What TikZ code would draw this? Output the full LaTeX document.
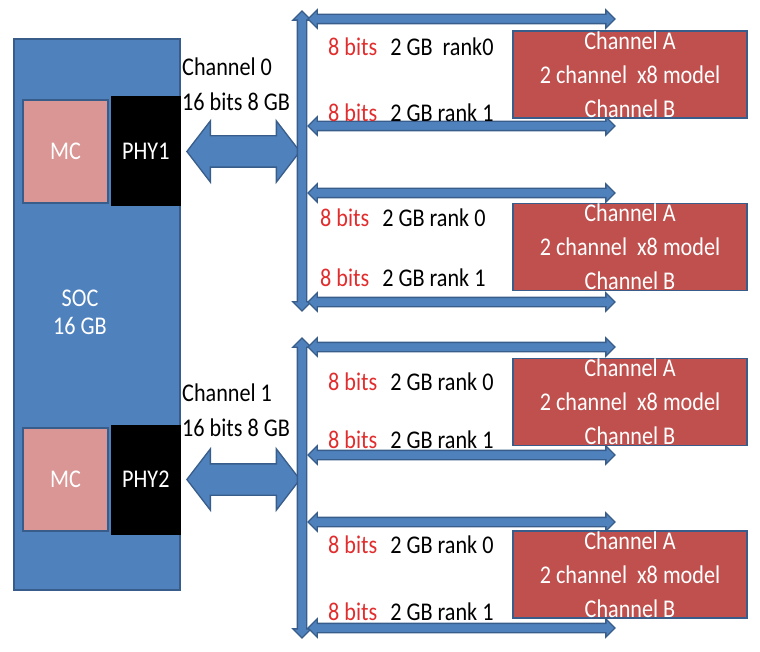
\documentclass[tikz,border=0pt]{standalone}
\usepackage{fontspec}
\setmainfont{Carlito}[FakeStretch=0.87]
\usepackage{tikz}
\usetikzlibrary{shapes.arrows,positioning}
\definecolor{ofblue}{RGB}{79,129,189}
\definecolor{ofnavy}{RGB}{56,93,138}
\definecolor{ofred}{RGB}{192,80,77}
\definecolor{ofpink}{RGB}{217,150,148}
\definecolor{bitred}{RGB}{225,45,45}

\begin{document}
\begin{tikzpicture}[
  x=1pt, y=-1pt,
  font=\fontsize{25.5}{34}\selectfont,
  soc/.style={draw=ofnavy, fill=ofblue, line width=1.3pt,
              minimum width=166pt, minimum height=551pt, inner sep=0pt},
  mc/.style={draw=ofnavy, fill=ofpink, line width=1.3pt,
             minimum width=85pt, minimum height=103pt, text=white},
  phy/.style={fill=black, minimum width=70pt, minimum height=110pt,
              text=white, inner sep=0pt},
  dimm/.style={draw=ofnavy, fill=ofred, line width=1.3pt, inner sep=0pt,
               minimum width=234pt, minimum height=87pt, align=center,
               text=white},
  rail/.style={double arrow, draw=ofnavy, fill=ofblue, line width=1.3pt,
               inner xsep=0pt, inner ysep=4pt,
               double arrow head extend=4.5pt, double arrow tip angle=90},
  link/.style={double arrow, draw=ofnavy, fill=ofblue, line width=1.3pt,
               inner xsep=0pt, inner ysep=15pt, minimum height=113pt,
               double arrow head extend=15pt, double arrow tip angle=105},
  lbl/.style={anchor=west, inner sep=0pt}
]
\useasboundingbox (0,0) rectangle (760,652);

% --- SoC (left) ---
\node[soc] (soc) at (97,314.5) {};
\node[text=white, align=center, font=\fontsize{25.5}{28}\selectfont]
  (soclbl) at (80,312) {SOC\\16 GB};

\node[mc] (mc1) at (65.5,151.5) {MC};
\node[phy, right=2pt of mc1] (phy1) {PHY1};
\node[mc] (mc2) at (65.5,479.5) {MC};
\node[phy, right=2pt of mc2] (phy2) {PHY2};

% --- channels ---
\node[link, right=5pt of phy1] (lk0) {};
\node[link, right=5pt of phy2] (lk1) {};
\node[lbl, align=left, font=\fontsize{25.5}{35}\selectfont]
  (ch0) at (182,84.5) {Channel 0\\16 bits 8 GB};
\node[lbl, align=left, font=\fontsize{25.5}{35}\selectfont]
  (ch1) at (182,410.5) {Channel 1\\16 bits 8 GB};

% --- buses and ranks (right) ---
\node[rail, rotate=90, minimum height=300pt] (bus0) at (302,161) {};
\node[rail, rotate=90, minimum height=300pt] (bus1) at (302,488) {};

\foreach \y [count=\i] in {19,126,193,302,347,455,522,628}
  \node[rail, minimum height=307pt] (r\i) at (461.5,\y) {};

\foreach \y [count=\i] in {74.5,247,402,574.5}
  \node[dimm] (dimm\i) at (630,\y)
    {Channel A\\2 channel~ x8 model\\Channel B};

\foreach \x/\y/\t [count=\i] in {328/47/2 GB~ rank0, 328/113/2 GB rank 1,
    320/218/2 GB rank 0, 320/278/2 GB rank 1, 328/382/2 GB rank 0,
    328/440/2 GB rank 1, 328/545/2 GB rank 0, 328/612/2 GB rank 1}
  \node[lbl] (rk\i) at (\x,\y) {\textcolor{bitred}{8 bits}\hspace{13pt}\t};

\end{tikzpicture}
\end{document}
